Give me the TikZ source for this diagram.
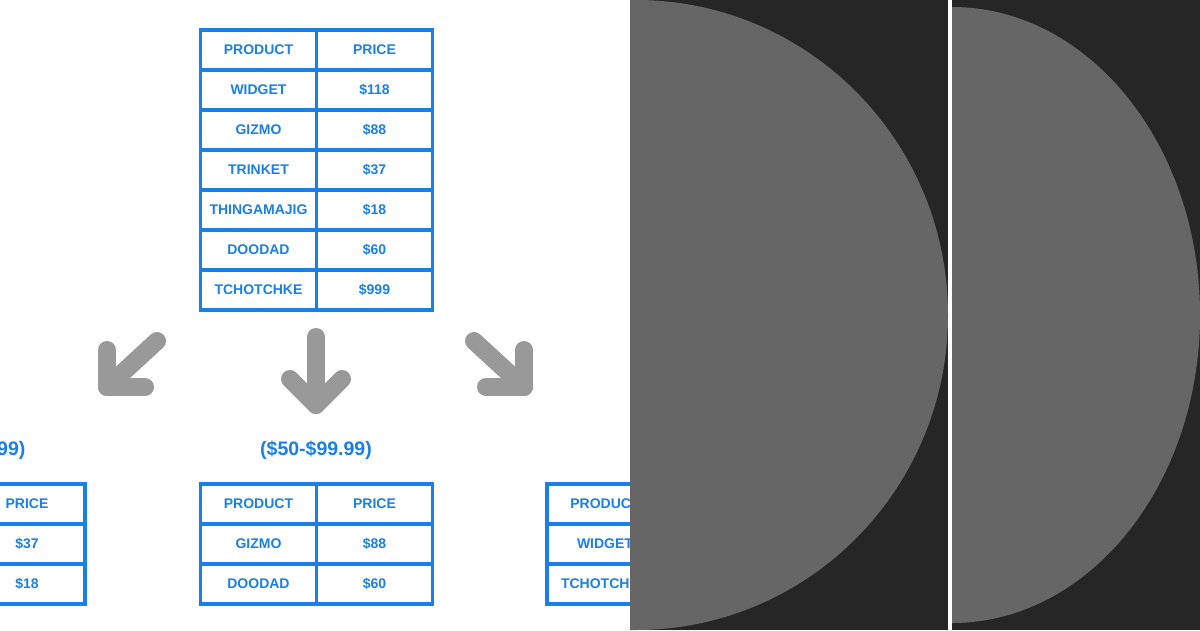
\documentclass[tikz,border=0pt]{standalone}
\usepackage{fontspec}
\setmainfont{Liberation Sans}
\begin{document}
\begin{tikzpicture}[x=1pt,y=-1pt,
  cell/.style={draw=tblue,line width=3.5pt,minimum width=116pt,minimum height=40pt,inner sep=0pt,text=tblue,font=\bfseries\fontsize{14}{14}\selectfont},
  lbl/.style={text=tblue,font=\bfseries\fontsize{19.5}{20}\selectfont},
  arr/.style={draw=agray,line width=18pt,line cap=round,line join=round},
  panel/.style={fill=dgray,draw=none},
  moon/.style={fill=mgray,draw=none}]
\definecolor{tblue}{HTML}{1A80E6}
\definecolor{agray}{HTML}{999999}
\definecolor{dgray}{HTML}{262626}
\definecolor{mgray}{HTML}{666666}
\useasboundingbox (0,0) rectangle (1200,630);
\clip (0,0) rectangle (1200,630);
\fill[white] (0,0) rectangle (1200,630);
% top table
\foreach \i/\p/\c in {0/PRODUCT/PRICE,1/WIDGET/\$118,2/GIZMO/\$88,3/TRINKET/\$37,4/THINGAMAJIG/\$18,5/DOODAD/\$60,6/TCHOTCHKE/\$999}{
  \node[cell] (tp\i) at (258.5,{50+40*\i}) {\p};
  \node[cell] (tc\i) at (374.5,{50+40*\i}) {\c};
}
% middle table
\foreach \i/\p/\c in {0/PRODUCT/PRICE,1/GIZMO/\$88,2/DOODAD/\$60}{
  \node[cell] (mp\i) at (258.5,{504+40*\i}) {\p};
  \node[cell] (mc\i) at (374.5,{504+40*\i}) {\c};
}
% left table
\foreach \i/\p/\c in {0/PRODUCT/PRICE,1/TRINKET/\$37,2/THINGAMAJIG/\$18}{
  \node[cell] (lp\i) at (-89,{504+40*\i}) {\p};
  \node[cell] (lc\i) at (27,{504+40*\i}) {\c};
}
% right table
\foreach \i/\p/\c in {0/PRODUCT/PRICE,1/WIDGET/\$118,2/TCHOTCHKE/\$999}{
  \node[cell] (rp\i) at (605,{504+40*\i}) {\p};
  \node[cell] (rc\i) at (721,{504+40*\i}) {\c};
}
\node[lbl] (llab) at (-25,450) {(\$0-\$49.99)};
\node[lbl] (mlab) at (316,450) {(\$50-\$99.99)};
\node[lbl] (rlab) at (678,450) {(\$100+)};
% arrows
\coordinate (a1s) at (157,341); \coordinate (a1e) at (107,387);
\draw[arr] (a1s) -- (a1e);
\draw[arr] (107,350) -- (a1e) -- (145,387);
\coordinate (a2s) at (316,337); \coordinate (a2e) at (316,405);
\draw[arr] (a2s) -- (a2e);
\draw[arr] (290,379) -- (a2e) -- (342,379);
\coordinate (a3s) at (474,341); \coordinate (a3e) at (524,387);
\draw[arr] (a3s) -- (a3e);
\draw[arr] (524,350) -- (a3e) -- (486,387);
% dark panels
\fill[panel] (630,0) rectangle (948,630);
\fill[panel] (952,0) rectangle (1200,630);
\fill[moon] (630,0) -- (636,0) arc[start angle=-90,end angle=90,x radius=312,y radius=315] -- (630,630) -- cycle;
\fill[moon] (952,7) arc[start angle=-90,end angle=90,x radius=248,y radius=308] -- cycle;
\end{tikzpicture}
\end{document}
